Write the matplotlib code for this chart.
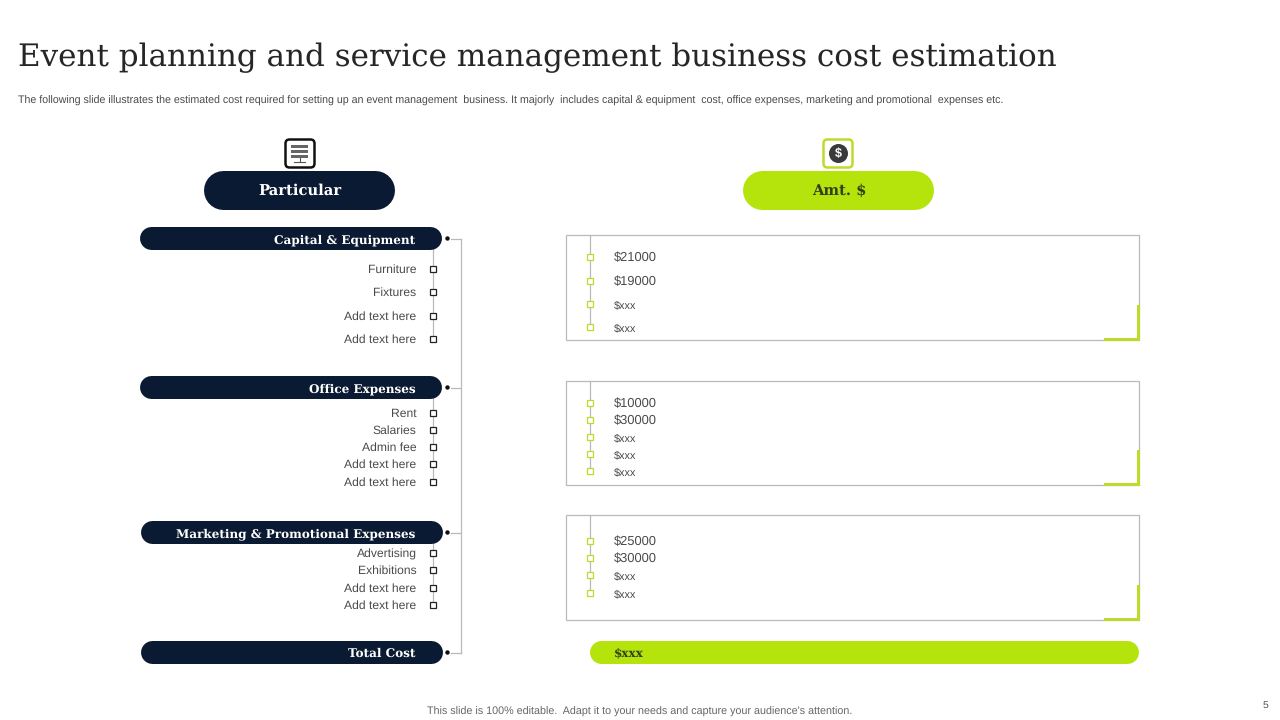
import matplotlib
matplotlib.use("Agg")
import matplotlib.pyplot as plt
from matplotlib.patches import FancyBboxPatch, Rectangle, Circle

plt.rcParams["text.hinting"] = "no_hinting"
plt.rcParams["text.hinting_factor"] = 8

title = "Event planning and service management business cost estimation"
subtitle = ("The following slide illustrates the estimated cost required for setting up an event management  business. "
            "It majorly  includes capital & equipment  cost, office expenses, marketing and promotional  expenses etc.")
footer = "This slide is 100% editable.  Adapt it to your needs and capture your audience's attention."
page_no = "5"

col_left = "Particular"
col_right = "Amt. $"
groups = ["Capital & Equipment", "Office Expenses", "Marketing & Promotional Expenses", "Total Cost"]
items_1 = ["Furniture", "Fixtures", "Add text here", "Add text here"]
items_2 = ["Rent", "Salaries", "Admin fee", "Add text here", "Add text here"]
items_3 = ["Advertising", "Exhibitions", "Add text here", "Add text here"]
amounts_1 = ["$21000", "$19000", "$xxx", "$xxx"]
amounts_2 = ["$10000", "$30000", "$xxx", "$xxx", "$xxx"]
amounts_3 = ["$25000", "$30000", "$xxx", "$xxx"]
total = "$xxx"

# layout, pixels
group_y = [238.5, 387.5, 532.5, 652.5]
rows_1 = [269, 292, 316, 339]
rows_2 = [413, 430, 447, 464, 482]
rows_3 = [553, 570, 588, 605]
amt_rows_1 = [257, 281, 304, 327]
amt_rows_2 = [403, 420, 437, 454, 471]
amt_rows_3 = [541, 558, 575, 593]
boxes = [(235, 340), (381, 485), (515, 620)]

NAVY = "#0b1a33"
LIME = "#b5e30c"
LIME_DARK = "#bcdc2c"
GREY = "#b9b9b9"
TEXT = "#4a4a4a"
SANS = "Liberation Sans"
SERIF = "DejaVu Serif"
PX = 0.72  # points per pixel at dpi 100

fig = plt.figure(figsize=(12.8, 7.2), dpi=100)
ax = fig.add_axes([0, 0, 1, 1])
ax.set_xlim(0, 1280)
ax.set_ylim(720, 0)
ax.axis("off")


def pill(x0, x1, y0, y1, color, z=3):
    r = (y1 - y0) / 2
    ax.plot([x0 + r, x1 - r], [y0 + r, y0 + r], color=color, lw=(y1 - y0) * PX,
            solid_capstyle="round", snap=False, zorder=z)


def square(x, y, ec, size=6):
    ax.add_patch(Rectangle((x - size / 2, y - size / 2), size, size, fc="white", ec=ec, lw=0.9, zorder=4))


ax.text(18, 58, title, family=SERIF, fontsize=22.3, color="#262626", va="center", ha="left")
ax.text(18, 101, subtitle, family=SANS, fontsize=7.67, color=TEXT, va="center", ha="left")
ax.text(639.5, 712, footer, family=SANS, fontsize=7.74, color="#666666", va="center", ha="center")
ax.text(1265, 705, page_no, family=SANS, fontsize=7.5, color="#555555", va="center", ha="center")

# column headers
pill(204, 395, 171, 210, NAVY)
ax.text(300, 191, col_left, family=SERIF, weight="bold", fontsize=10.6, color="white", va="center", ha="center", zorder=5)
pill(743, 934, 171, 210, LIME)
ax.text(839, 191, col_right, family=SERIF, weight="bold", fontsize=10.6, color="#33401a", va="center", ha="center", zorder=5)

# server icon
ax.add_patch(FancyBboxPatch((285.5, 139.5), 29, 28, boxstyle="round,pad=0,rounding_size=4", fc="white", ec="#111111", lw=1.8, zorder=3))
for y in [146.5, 151.5, 156.5]:
    ax.add_patch(Rectangle((291, y - 1.5), 17, 3.2, fc="#666666", ec="none", zorder=4))
ax.plot([299.5, 299.5], [158, 162], color="#555555", lw=0.8, zorder=4)
ax.plot([294, 305], [162, 162], color="#555555", lw=0.8, zorder=4)

# dollar icon
ax.add_patch(FancyBboxPatch((823.5, 139.5), 29, 28, boxstyle="round,pad=0,rounding_size=4", fc="white", ec=LIME_DARK, lw=1.8, zorder=3))
ax.add_patch(Circle((838.5, 153.5), 9.5, fc="#3a3a3a", ec="none", zorder=4))
ax.text(838.5, 154, r"\$", family=SANS, weight="bold", fontsize=9, color="white", va="center", ha="center", zorder=5)

# connector on the far right of the left column
ax.plot([460.5, 460.5], [group_y[0], group_y[3]], color=GREY, lw=0.9, zorder=1)

group_x0 = [140, 140, 141, 141]
group_x1 = [442, 442, 443, 443]
for g, y, x0, x1 in zip(groups, group_y, group_x0, group_x1):
    pill(x0, x1, y - 11.5, y + 11.5, NAVY)
    ax.text(415.5, y + 1.5, g, family=SERIF, weight="bold", fontsize=8.65, color="white", va="center", ha="right", zorder=5)
    ax.plot([451, 460.5], [y, y], color=GREY, lw=0.9, zorder=1)
    ax.add_patch(Circle((447.5, y), 2.2, fc="#111111", ec="none", zorder=4))

# left item lists
for items, rows, gy in zip([items_1, items_2, items_3], [rows_1, rows_2, rows_3], group_y):
    ax.plot([433, 433], [gy, rows[-1]], color=GREY, lw=0.9, zorder=1)
    for label, y in zip(items, rows):
        ax.text(416.5, y + 1, label, family=SANS, fontsize=8.7, color=TEXT, va="center", ha="right")
        square(433, y, "#222222")

# right boxes
for (y0, y1), amounts, rows in zip(boxes, [amounts_1, amounts_2, amounts_3], [amt_rows_1, amt_rows_2, amt_rows_3]):
    ax.add_patch(Rectangle((566, y0), 573, y1 - y0, fc="white", ec=GREY, lw=0.9, zorder=1))
    ax.plot([590, 590], [y0, rows[-1]], color=GREY, lw=0.9, zorder=2)
    for label, y in zip(amounts, rows):
        square(590, y, LIME_DARK)
        size = 7.8 if "x" in label else 9.3
        ax.text(614, y + 1, label.replace("$", r"\$"), family=SANS, fontsize=size, color=TEXT, va="center", ha="left")
    # lime corner
    ax.plot([1105, 1138, 1138], [y1 - 1, y1 - 1, y1 - 34], color=LIME_DARK, lw=2.2, solid_joinstyle="miter", zorder=3)

# total bar
pill(590, 1139, 641, 664, LIME)
ax.text(614, 652.5, total.replace("$", r"\$"), family=SERIF, weight="bold", fontsize=8.65, color="#33401a", va="center", ha="left", zorder=5)

fig.savefig("out.png", dpi=100, facecolor="white")
